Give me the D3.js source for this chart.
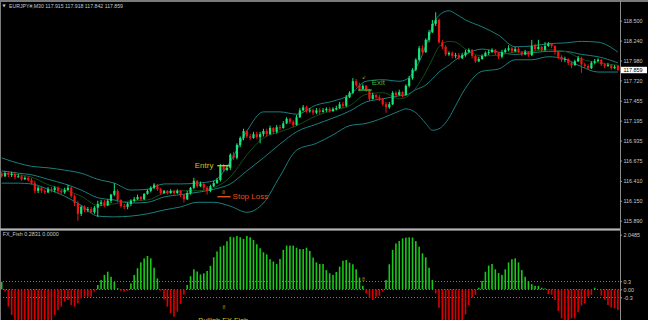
<!DOCTYPE html>
<html>
<head>
<meta charset="utf-8">
<script src="https://cdn.jsdelivr.net/npm/d3@7/dist/d3.min.js"></script>
<style>
  html, body { margin: 0; padding: 0; background: #000; }
  svg { display: block; }
</style>
</head>
<body>
<div id="chart"></div>
<script>
// EURJPY M30 candles
const opens = [
  116.50,116.47,116.51,116.49,116.50,116.46,116.47,116.43,116.45,116.42,
  116.38,116.28,116.32,116.28,116.26,116.30,116.29,116.32,116.28,116.26,
  116.29,116.32,116.21,116.12,115.98,116.07,116.03,116.04,116.00,116.06,
  116.11,116.13,116.09,116.15,116.23,116.28,116.16,116.08,116.07,116.11,
  116.15,116.17,116.20,116.17,116.24,116.28,116.32,116.36,116.30,116.25,
  116.28,116.25,116.28,116.25,116.28,116.23,116.17,116.25,116.32,116.41,
  116.34,116.37,116.32,116.28,116.34,116.38,116.42,116.60,116.55,116.58,
  116.75,116.71,116.88,116.97,117.06,116.99,116.97,117.02,116.98,117.02,
  117.06,117.02,117.10,117.05,117.11,117.10,117.16,117.22,117.18,117.14,
  117.24,117.33,117.37,117.32,117.33,117.30,117.33,117.31,117.33,117.35,
  117.32,117.35,117.36,117.41,117.39,117.50,117.56,117.71,117.66,117.61,
  117.65,117.60,117.48,117.53,117.50,117.48,117.41,117.37,117.41,117.56,
  117.53,117.57,117.53,117.65,117.75,117.86,117.99,118.14,118.09,118.25,
  118.35,118.46,118.51,118.22,118.16,118.06,118.08,118.04,118.05,118.01,
  118.05,118.09,118.12,118.04,117.97,118.00,118.04,118.08,118.09,118.12,
  118.08,118.03,118.09,118.12,118.14,118.10,118.13,118.09,118.06,118.09,
  118.05,118.17,118.13,118.16,118.12,118.17,118.20,118.17,118.09,118.03,
  117.99,118.00,117.95,117.92,117.97,118.01,117.93,117.91,117.88,117.95,
  117.97,117.99,117.93,117.91,117.92,117.88,117.915
];
const highs = [
  116.53,116.54,116.54,116.53,116.53,116.50,116.49,116.47,116.47,116.45,
  116.41,116.34,116.33,116.30,116.33,116.33,116.34,116.34,116.30,116.32,
  116.36,116.33,116.23,116.15,116.09,116.09,116.07,116.07,116.08,116.15,
  116.16,116.16,116.17,116.24,116.38,116.30,116.17,116.11,116.13,116.17,
  116.20,116.23,116.21,116.25,116.30,116.34,116.38,116.37,116.32,116.29,
  116.29,116.30,116.29,116.30,116.29,116.24,116.28,116.33,116.45,116.42,
  116.40,116.38,116.34,116.36,116.41,116.45,116.63,116.63,116.62,116.77,
  116.79,116.90,116.99,117.09,117.07,117.02,117.05,117.05,117.05,117.09,
  117.09,117.13,117.11,117.14,117.14,117.19,117.24,117.23,117.20,117.27,
  117.36,117.40,117.39,117.36,117.35,117.36,117.36,117.36,117.37,117.37,
  117.37,117.39,117.44,117.44,117.53,117.58,117.75,117.74,117.69,117.67,
  117.66,117.61,117.56,117.54,117.53,117.49,117.44,117.44,117.58,117.58,
  117.60,117.58,117.67,117.78,117.88,118.01,118.17,118.18,118.27,118.38,
  118.51,118.61,118.53,118.25,118.18,118.10,118.10,118.08,118.08,118.08,
  118.12,118.14,118.13,118.05,118.03,118.06,118.10,118.12,118.14,118.13,
  118.09,118.12,118.14,118.18,118.16,118.16,118.16,118.10,118.12,118.10,
  118.25,118.20,118.25,118.17,118.22,118.22,118.21,118.18,118.10,118.05,
  118.03,118.01,117.97,117.99,118.04,118.03,117.95,117.93,117.97,118.00,
  118.01,118.00,117.95,117.95,117.93,117.92,117.918
];
const lows = [
  116.45,116.46,116.46,116.46,116.43,116.45,116.41,116.42,116.40,116.36,
  116.25,116.25,116.25,116.24,116.25,116.26,116.26,116.25,116.24,116.24,
  116.28,116.19,116.08,115.89,115.95,116.00,116.00,115.98,115.98,115.94,
  116.08,116.07,116.08,116.12,116.21,116.13,116.06,116.04,116.04,116.08,
  116.13,116.16,116.15,116.16,116.23,116.26,116.30,116.28,116.23,116.24,
  116.23,116.24,116.23,116.24,116.20,116.13,116.16,116.23,116.30,116.32,
  116.33,116.29,116.23,116.26,116.33,116.37,116.40,116.53,116.54,116.55,
  116.68,116.69,116.85,116.94,116.97,116.94,116.96,116.96,116.90,116.99,
  116.99,117.01,117.02,117.03,117.07,117.09,117.15,117.15,117.11,117.13,
  117.23,117.32,117.30,117.30,117.27,117.28,117.28,117.30,117.31,117.30,
  117.31,117.33,117.35,117.36,117.37,117.49,117.54,117.63,117.58,117.60,
  117.57,117.45,117.47,117.48,117.45,117.39,117.30,117.35,117.40,117.50,
  117.52,117.50,117.52,117.63,117.73,117.84,117.97,118.06,118.08,118.22,
  118.34,118.43,118.20,118.13,118.04,118.04,118.01,118.01,117.99,118.00,
  118.03,118.08,118.01,117.95,117.96,117.99,118.03,118.05,118.08,118.05,
  118.00,118.01,118.08,118.10,118.08,118.09,118.08,118.04,118.05,118.03,
  118.04,118.10,118.12,118.09,118.10,118.16,118.14,118.06,118.00,117.96,
  117.96,117.92,117.88,117.91,117.96,117.82,117.88,117.86,117.87,117.93,
  117.96,117.91,117.88,117.90,117.86,117.87,117.842
];
const closes = [
  116.47,116.51,116.49,116.50,116.46,116.47,116.43,116.45,116.42,116.38,
  116.28,116.32,116.28,116.26,116.30,116.29,116.32,116.28,116.26,116.29,
  116.32,116.21,116.12,115.98,116.07,116.03,116.04,116.00,116.06,116.11,
  116.13,116.09,116.15,116.23,116.28,116.16,116.08,116.07,116.11,116.15,
  116.17,116.20,116.17,116.24,116.28,116.32,116.36,116.30,116.25,116.28,
  116.25,116.28,116.25,116.28,116.23,116.17,116.25,116.32,116.41,116.34,
  116.37,116.32,116.28,116.34,116.38,116.42,116.60,116.55,116.58,116.75,
  116.71,116.88,116.97,117.06,116.99,116.97,117.02,116.98,117.02,117.06,
  117.02,117.10,117.05,117.11,117.10,117.16,117.22,117.18,117.14,117.24,
  117.33,117.37,117.32,117.33,117.30,117.33,117.31,117.33,117.35,117.32,
  117.35,117.36,117.41,117.39,117.50,117.56,117.71,117.66,117.61,117.65,
  117.60,117.48,117.53,117.50,117.48,117.41,117.37,117.41,117.56,117.53,
  117.57,117.53,117.65,117.75,117.86,117.99,118.14,118.09,118.25,118.35,
  118.46,118.51,118.22,118.16,118.06,118.08,118.04,118.05,118.01,118.05,
  118.09,118.12,118.04,117.97,118.00,118.04,118.08,118.09,118.12,118.08,
  118.03,118.09,118.12,118.14,118.10,118.13,118.09,118.06,118.09,118.05,
  118.17,118.13,118.16,118.12,118.17,118.20,118.17,118.09,118.03,117.99,
  118.00,117.95,117.92,117.97,118.01,117.93,117.91,117.88,117.95,117.97,
  117.99,117.93,117.91,117.92,117.88,117.90,117.859
];

// Bollinger bands and fast MA, read at some bars
const bandIdx  = [0,5,9,14,19,24,29,34,39,44,49,54,59,64,69,74,79,84,89,95,100,105,110,115,120,122,125,128,130,132,135,137,140,145,150,155,160,165,170,175,180,186];
const bbUpper  = [116.71,116.64,116.60,116.58,116.55,116.51,116.43,116.38,116.29,116.30,116.37,116.37,116.38,116.41,116.66,117.06,117.31,117.31,117.28,117.40,117.45,117.53,117.71,117.73,117.71,117.73,117.88,118.17,118.42,118.57,118.63,118.59,118.51,118.42,118.31,118.16,118.17,118.20,118.21,118.23,118.22,118.09];
const bbMiddle = [116.54,116.51,116.49,116.43,116.37,116.29,116.19,116.16,116.12,116.13,116.20,116.23,116.26,116.30,116.37,116.54,116.71,116.89,117.05,117.15,117.23,117.32,117.44,117.48,117.52,117.53,117.60,117.66,117.74,117.83,117.92,117.99,118.06,118.13,118.09,118.06,118.08,118.10,118.10,118.06,118.03,117.95];
const bbLower  = [116.38,116.38,116.37,116.30,116.21,116.09,115.95,115.94,115.95,115.98,116.03,116.07,116.13,116.13,116.08,116.00,116.12,116.47,116.81,116.90,117.01,117.13,117.16,117.23,117.32,117.35,117.30,117.16,117.07,117.09,117.23,117.39,117.62,117.84,117.87,117.99,117.99,118.03,118.00,117.90,117.83,117.83];
const maFast   = [116.51,116.49,116.46,116.36,116.29,116.21,116.09,116.11,116.15,116.16,116.25,116.28,116.28,116.32,116.46,116.75,116.97,117.05,117.13,117.26,117.33,117.39,117.54,117.56,117.48,117.50,117.62,117.83,118.00,118.16,118.23,118.22,118.13,118.04,118.05,118.09,118.10,118.12,118.10,118.00,117.95,117.92];

// FX_Fish histogram, one value per bar
const fish = [
  0.28,-0.09,-0.65,-0.96,-1.30,-1.45,-1.60,-1.70,-1.75,-1.80,
  -1.75,-1.70,-1.60,-1.50,-1.40,-1.25,-0.96,-0.78,-0.65,-0.46,
  -0.40,-0.59,-0.65,-0.53,-0.34,-0.28,-0.28,-0.28,-0.09,0.16,
  0.35,0.54,0.66,0.47,0.28,0.04,-0.06,-0.09,-0.06,0.22,
  0.54,0.79,1.01,1.16,1.25,1.16,0.81,0.41,-0.05,-0.38,
  -0.65,-0.90,-1.03,-0.84,-0.55,-0.20,0.16,0.49,0.75,0.67,
  0.56,0.60,0.69,0.88,1.20,1.42,1.60,1.64,1.80,1.97,
  1.95,2.00,1.95,1.89,2.00,1.95,1.85,1.69,1.54,1.39,
  1.31,1.13,1.04,0.95,1.14,1.48,1.64,1.64,1.64,1.56,
  1.51,1.51,1.56,1.44,1.19,1.01,0.95,0.95,0.72,0.60,
  0.54,0.65,0.85,1.07,1.10,1.00,0.94,0.75,0.44,0.13,
  -0.15,-0.31,-0.40,-0.28,-0.24,-0.09,0.35,0.94,1.48,1.72,
  1.81,1.91,1.94,1.95,1.94,1.81,1.60,1.35,1.20,0.81,
  0.35,-0.15,-0.69,-1.25,-1.45,-1.60,-1.70,-1.60,-1.45,-1.30,
  -0.94,-0.59,-0.31,-0.21,0.06,0.31,0.66,0.89,0.95,0.75,
  0.61,0.54,0.75,1.01,1.13,1.16,1.01,0.72,0.47,0.31,
  0.19,0.13,0.13,0.06,0.03,-0.18,-0.20,-0.40,-0.81,-1.09,
  -1.25,-1.25,-1.09,-1.09,-0.86,-0.61,-0.53,-0.28,-0.21,0.06,
  0.00,-0.24,-0.40,-0.59,-0.69,-0.71,-0.78
];

const priceTicks = [118.5, 118.24, 117.98, 117.72, 117.455, 117.195, 116.935, 116.675, 116.41, 116.15, 115.89];
const fishTicks = [2.0485, 0.3, 0, -0.3];
const fishTickLabels = ['2.0485', '0.3', '0.00', '-0.3'];
const fishLevels = [0.3, 0, -0.3];
const lastPrice = 117.859;
const header = 'EURJPY#,M30  117.915 117.918 117.842 117.859';
const fishHeader = 'FX_Fish 0.2831 0.0000';

// trade marks: bar index + price (main) or fish value (lower)
const tradeLines = [
  { from: 65.1, to: 69.1, price: 116.608, color: '#c8c814' },
  { from: 65.1, to: 69.1, price: 116.203, color: '#e0501c' },
  { from: 107.6, to: 111.7, price: 117.595, color: '#3cb43c' }
];
const tradeTexts = [
  { text: 'Entry', at: 63.9, price: 116.584, color: '#c8c814', anchor: 'end' },
  { text: 'Stop Loss', at: 69.7, price: 116.17, color: '#e0501c', anchor: 'start' },
  { text: 'Exit', at: 111.7, price: 117.667, color: '#3cb43c', anchor: 'start' }
];
const signalMarks = [
  { text: '8', at: 67, price: 116.24, color: '#c08a00' },
  { text: '\u2199', at: 109.4, price: 117.74, color: '#d0a000' }
];
const fishMarks = [
  { text: '8', at: 67.1, value: -0.74, color: '#a08c00', size: 5 },
  { text: '8', at: 109.2, value: 0.33, color: '#a08c00', size: 5 },
  { text: 'Bullish FX Fish', at: 59.3, value: -1.28, color: '#c8c814', size: 7.5 }
];

const width = 648;
const height = 320;
const axisX = 620;
const font = 'Liberation Sans, Arial, sans-serif';
const bull = '#14e678';
const bear = '#f01414';
const bandColor = '#1a7e7e';

const svg = d3.select('#chart')
  .append('svg')
  .attr('width', width)
  .attr('height', height)
  .style('background', '#000');

const defs = svg.append('defs');
defs.append('clipPath').attr('id', 'clipMain')
  .append('rect').attr('x', 0).attr('y', 2).attr('width', axisX).attr('height', 226);
defs.append('clipPath').attr('id', 'clipFish')
  .append('rect').attr('x', 0).attr('y', 231).attr('width', axisX).attr('height', 89);

const n = closes.length;
const x = d3.scaleLinear().domain([0, n - 1]).range([1.7, 617.9]);
const y = d3.scaleLinear().domain([115.89, 118.5]).range([220.7, 20.7]);
const yf = d3.scaleLinear().domain([0, 2.0485]).range([289.3, 234.7]);

// ---- main panel
const main = svg.append('g').attr('clip-path', 'url(#clipMain)');

const bandPath = d3.line()
  .x((d, k) => x(bandIdx[k]))
  .y(d => y(d))
  .curve(d3.curveMonotoneX);

[bbUpper, bbMiddle, bbLower].forEach(vals => {
  main.append('path')
    .attr('d', bandPath(vals))
    .attr('fill', 'none')
    .attr('stroke', bandColor)
    .attr('stroke-width', 1);
});
main.append('path')
  .attr('d', bandPath(maFast))
  .attr('fill', 'none')
  .attr('stroke', '#124e12')
  .attr('stroke-width', 1);

const bars = d3.range(n);
main.append('g').selectAll('line')
  .data(bars)
  .enter().append('line')
  .attr('x1', i => x(i)).attr('x2', i => x(i))
  .attr('y1', i => y(highs[i])).attr('y2', i => y(lows[i]))
  .attr('stroke', i => closes[i] >= opens[i] ? bull : bear)
  .attr('stroke-width', 1);

main.append('g').selectAll('rect')
  .data(bars)
  .enter().append('rect')
  .attr('x', i => x(i) - 1.1)
  .attr('width', 2.2)
  .attr('y', i => y(Math.max(opens[i], closes[i])))
  .attr('height', i => Math.max(1, Math.abs(y(opens[i]) - y(closes[i]))))
  .attr('fill', i => closes[i] >= opens[i] ? bull : bear);

tradeLines.forEach(t => {
  main.append('line')
    .attr('x1', x(t.from)).attr('x2', x(t.to))
    .attr('y1', y(t.price)).attr('y2', y(t.price))
    .attr('stroke', t.color).attr('stroke-width', 1.4);
});
tradeTexts.forEach(t => {
  main.append('text')
    .attr('x', x(t.at)).attr('y', y(t.price))
    .attr('text-anchor', t.anchor)
    .attr('font-family', font).attr('font-size', 8)
    .attr('fill', t.color)
    .text(t.text);
});
signalMarks.forEach(t => {
  main.append('text')
    .attr('x', x(t.at)).attr('y', y(t.price))
    .attr('text-anchor', 'middle')
    .attr('font-family', 'DejaVu Sans, sans-serif').attr('font-size', 5)
    .attr('fill', t.color)
    .text(t.text);
});

// ---- FX_Fish panel
const low = svg.append('g').attr('clip-path', 'url(#clipFish)');

fishLevels.forEach(v => {
  low.append('line')
    .attr('x1', 0).attr('x2', axisX)
    .attr('y1', Math.round(yf(v)) + 0.5).attr('y2', Math.round(yf(v)) + 0.5)
    .attr('stroke', '#7a7a7a')
    .attr('stroke-dasharray', '1,2');
});

low.append('g').selectAll('rect')
  .data(fish)
  .enter().append('rect')
  .attr('x', (d, i) => x(i) - 0.8)
  .attr('width', 1.6)
  .attr('y', d => Math.min(yf(d), yf(0)))
  .attr('height', d => Math.abs(yf(d) - yf(0)))
  .attr('fill', d => d >= 0 ? '#19c819' : '#dc0000');

fishMarks.forEach(t => {
  low.append('text')
    .attr('x', x(t.at)).attr('y', yf(t.value))
    .attr('text-anchor', t.size > 6 ? 'start' : 'middle')
    .attr('font-family', font).attr('font-size', t.size)
    .attr('fill', t.color)
    .text(t.text);
});

// ---- frame
svg.append('rect').attr('x', 0).attr('y', 0).attr('width', width).attr('height', 2).attr('fill', '#7a7a7a');
svg.append('rect').attr('x', 0).attr('y', 0).attr('width', 1).attr('height', height).attr('fill', '#7a7a7a');
svg.append('rect').attr('x', 0).attr('y', 228.4).attr('width', axisX).attr('height', 2.2).attr('fill', '#b4b4b4');
svg.append('line')
  .attr('x1', axisX + 0.5).attr('x2', axisX + 0.5)
  .attr('y1', 0).attr('y2', height)
  .attr('stroke', '#8c8c8c');

// ---- axes
const priceAxis = svg.append('g')
  .attr('transform', `translate(${axisX},0)`)
  .call(d3.axisRight(y).tickValues(priceTicks).tickFormat(d3.format('.3f')).tickSize(2).tickPadding(1.5))
  .call(g => g.select('.domain').remove());
priceAxis.selectAll('.tick line').attr('stroke', '#9a9a9a');
priceAxis.selectAll('.tick text')
  .attr('fill', '#c8c8c8').attr('font-family', font).attr('font-size', 5.4);

svg.append('rect')
  .attr('x', axisX + 1).attr('y', y(lastPrice) - 3)
  .attr('width', 26).attr('height', 6.4)
  .attr('fill', '#ffffff');
svg.append('text')
  .attr('x', axisX + 3.5).attr('y', y(lastPrice) + 2)
  .attr('font-family', font).attr('font-size', 5.4)
  .attr('fill', '#000')
  .text(d3.format('.3f')(lastPrice));

const fishAxis = svg.append('g')
  .attr('transform', `translate(${axisX},0)`)
  .call(d3.axisRight(yf).tickValues(fishTicks).tickFormat((d, i) => fishTickLabels[i]).tickSize(2).tickPadding(1.5))
  .call(g => g.select('.domain').remove());
fishAxis.selectAll('.tick line').attr('stroke', '#9a9a9a');
fishAxis.selectAll('.tick text')
  .attr('fill', '#c8c8c8').attr('font-family', font).attr('font-size', 5.4);

// ---- titles
svg.append('text')
  .attr('x', 2.5).attr('y', 7.3)
  .attr('font-family', 'DejaVu Sans, sans-serif').attr('font-size', 4)
  .attr('fill', '#c8c8c8')
  .text('\u25BC');
svg.append('text')
  .attr('x', 9).attr('y', 7.8)
  .attr('font-family', font).attr('font-size', 5.4)
  .attr('fill', '#c8c8c8')
  .attr('textLength', 114).attr('lengthAdjust', 'spacingAndGlyphs')
  .text(header);
svg.append('text')
  .attr('x', 2.7).attr('y', 236.3)
  .attr('font-family', font).attr('font-size', 5.4)
  .attr('fill', '#c8c8c8')
  .text(fishHeader);
</script>
</body>
</html>
